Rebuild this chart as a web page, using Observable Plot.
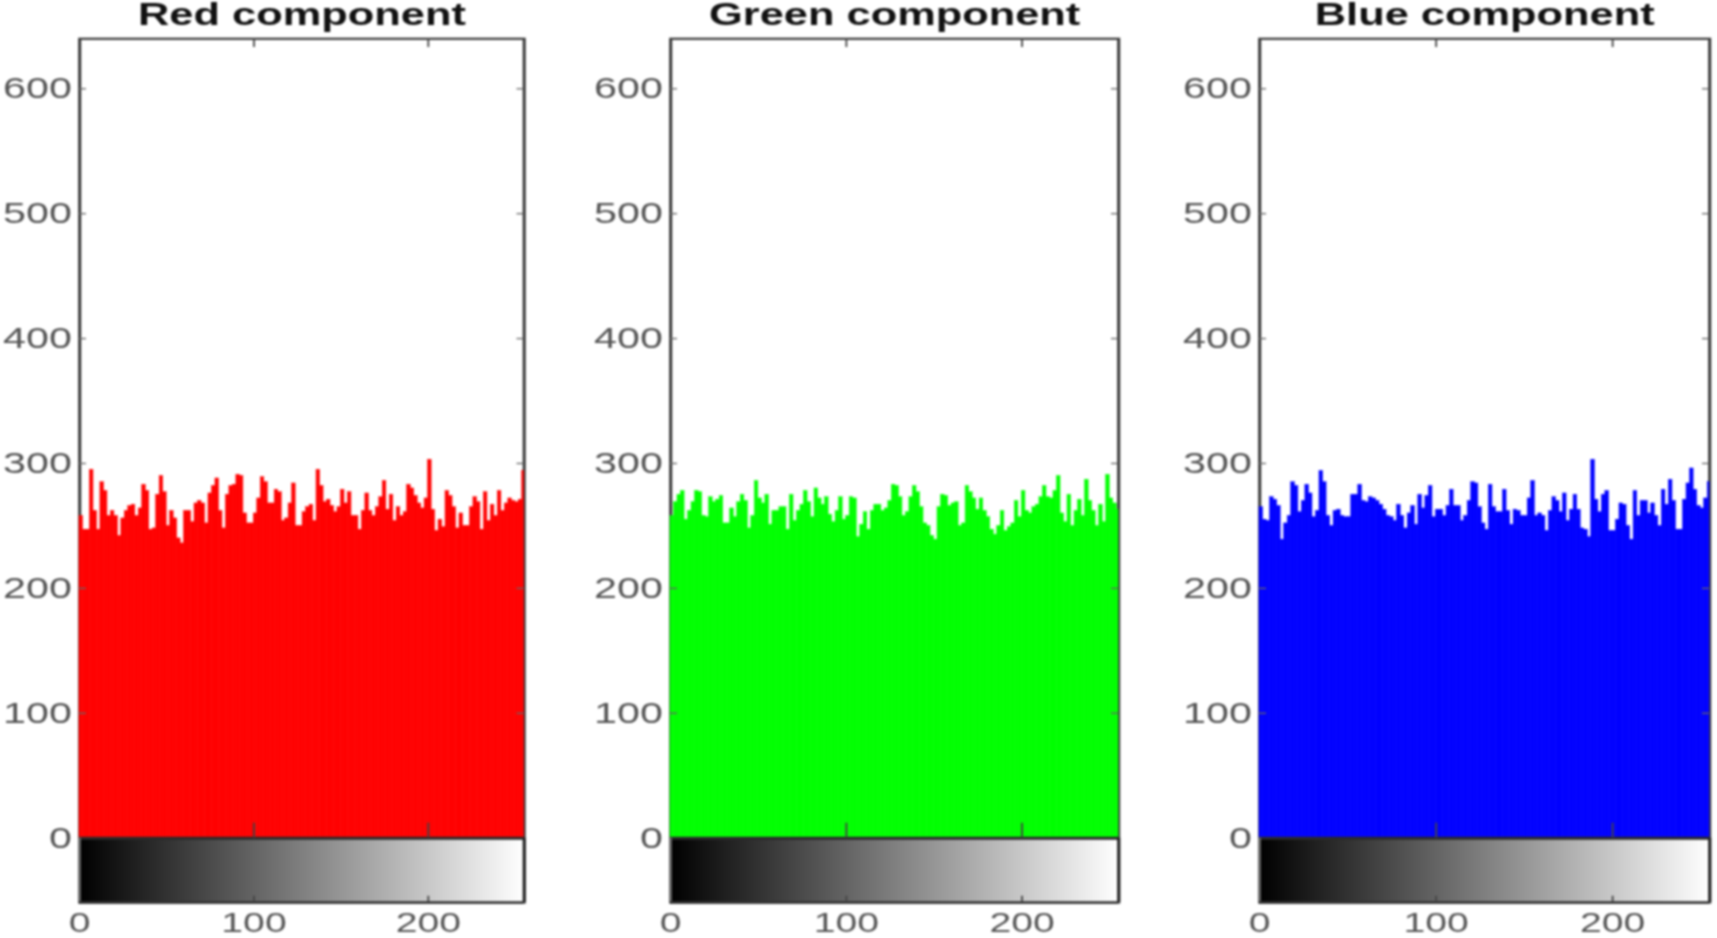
<!DOCTYPE html>
<html>
<head>
<meta charset="utf-8">
<script src="https://cdn.jsdelivr.net/npm/d3@7"></script>
<script src="https://cdn.jsdelivr.net/npm/@observablehq/plot@0.6"></script>
<style>
  html, body { margin: 0; background: #fff; overflow: hidden; }
  #chart { position: relative; width: 1717px; height: 938px; }
</style>
</head>
<body>
<div id="chart"></div>
<script>
// counts per 2 grey levels
const redCounts = [
  258,247,247,295,262,247,285,278,258,262,258,242,256,262,266,267,
  258,264,283,278,247,248,275,290,277,250,262,256,240,236,262,262,
  253,268,270,268,252,276,282,288,262,248,275,282,283,291,290,260,
  252,252,260,272,289,285,268,268,279,277,254,256,268,284,250,
  250,261,265,267,254,295,282,269,271,266,261,265,279,268,277,258,
  258,247,262,276,262,258,265,273,286,263,275,254,265,258,261,283,
  280,274,268,264,272,303,263,246,255,249,278,274,265,248,260,250,
  250,265,273,269,247,277,254,267,258,278,262,268,272,270,269,271,294
]
const greenCounts = [
  258,269,275,278,255,262,269,278,277,258,257,273,269,271,274,252,
  252,264,257,269,275,270,248,258,286,272,268,275,251,262,262,265,
  265,247,275,254,262,267,278,269,257,280,272,267,273,259,253,262,
  273,255,258,273,272,241,251,261,247,262,267,267,262,264,270,283,282,
  273,258,261,273,282,277,265,252,250,242,239,265,275,274,266,268,
  269,250,252,282,277,272,263,272,262,257,247,243,250,262,246,249,
  252,270,257,278,262,260,265,267,273,282,273,272,278,290,260,253,
  275,250,262,271,258,287,270,262,250,267,253,291,272,268,263
]
const blueCounts = [
  265,255,254,273,271,266,239,252,258,285,282,261,270,283,276,257,
  262,294,285,258,250,262,263,258,257,257,275,275,283,270,269,273,
  272,270,267,263,258,257,254,267,258,248,260,266,251,275,264,274,
  282,257,263,263,258,266,279,266,266,254,258,270,285,284,265,252,247,
  283,265,261,261,279,262,251,263,262,258,258,272,286,258,260,258,
  246,262,273,270,261,276,254,263,275,263,248,247,241,303,271,261,
  275,278,246,246,255,268,267,250,239,278,258,270,270,260,268,258,
  250,279,267,287,270,247,247,271,284,296,279,266,264,272,285
]

const titles = ['Red component', 'Green component', 'Blue component']
const fills = ['#ff0000', '#00ff00', '#0000ff']
const series = [redCounts, greenCounts, blueCounts]
const yTicks = [100, 200, 300, 400, 500, 600]
const xTicks = [0, 100, 200]
const greyLevels = d3.range(0, 256)

// the source figure is stretched wider than tall, text included
const stretch = 1.4
// real pixel placement of each svg and its axes
const panels = [
  {left: 0, width: 590, axisL: 79, axisR: 523.5},
  {left: 590, width: 590, axisL: 80, axisR: 528},
  {left: 1180, width: 537, axisL: 79, axisR: 529}
]
const barDepth = -51.5
const yMax = 640
const xMax = 255

panels.forEach((p, k) => {
  const fill = fills[k]
  const chart = Plot.plot({
    width: p.width / stretch,
    height: 938,
    marginLeft: p.axisL / stretch,
    marginRight: (p.width - p.axisR) / stretch,
    marginTop: 38.3,
    marginBottom: 36,
    style: {fontFamily: 'Liberation Sans', background: 'transparent', overflow: 'visible'},
    x: {domain: [0, xMax], axis: null},
    y: {domain: [barDepth, yMax], axis: null},
    color: {type: 'linear', domain: [0, xMax], range: ['#000', '#fff']},
    marks: [
      Plot.frame({stroke: '#3a3a3a', strokeWidth: 2.2}),
      Plot.rectY(series[k], {
        x1: (d, i) => i * 2,
        x2: (d, i) => Math.min(i * 2 + 2, xMax),
        y: d => d,
        fill,
        stroke: fill,
        strokeWidth: 0.4
      }),
      Plot.rect(greyLevels, {
        x1: d => d,
        x2: d => Math.min(d + 1, xMax),
        y1: barDepth,
        y2: 0,
        fill: d => d,
        shapeRendering: 'crispEdges'
      }),
      Plot.ruleY([0], {stroke: '#2a2a2a', strokeWidth: 3}),
      Plot.ruleX([xMax], {y1: barDepth, y2: 0, stroke: '#222', strokeWidth: 2.2}),
      Plot.ruleX([0], {y1: barDepth, y2: 0, stroke: '#777', strokeWidth: 1.5}),
      Plot.ruleY([barDepth], {stroke: '#333', strokeWidth: 2.4}),
      // inward ticks, all four sides of the histogram box
      Plot.ruleY(yTicks, {x1: 0, x2: 4, stroke: '#666', strokeWidth: 1.3}),
      Plot.ruleY(yTicks, {x1: xMax - 4, x2: xMax, stroke: '#666', strokeWidth: 1.3}),
      Plot.ruleX(xTicks.slice(1), {y1: yMax - 7, y2: yMax, stroke: '#444', strokeWidth: 1.3}),
      Plot.ruleX(xTicks.slice(1), {y1: 0, y2: 12, stroke: '#444', strokeWidth: 1.3}),
      Plot.ruleX(xTicks.slice(1), {y1: barDepth, y2: barDepth + 5, stroke: '#444', strokeWidth: 1.3}),
      Plot.text(yTicks.concat(0), {
        x: 0,
        y: d => d,
        text: d => String(d),
        textAnchor: 'end',
        dx: -5.5,
        fontSize: 29.5,
        fill: '#555'
      }),
      Plot.text(xTicks, {
        x: d => d,
        text: d => String(d),
        frameAnchor: 'bottom',
        lineAnchor: 'top',
        dy: 10,
        fontSize: 28,
        fill: '#555'
      }),
      Plot.text([titles[k]], {
        frameAnchor: 'top',
        lineAnchor: 'middle',
        dy: -24,
        fontSize: 31,
        fontWeight: 'bold',
        fill: '#111'
      })
    ]
  })
  chart.setAttribute('preserveAspectRatio', 'none')
  chart.style.position = 'absolute'
  chart.style.left = p.left + 'px'
  chart.style.top = '0'
  chart.style.width = p.width + 'px'
  chart.style.height = '938px'
  chart.style.maxWidth = 'none'
  chart.style.filter = 'blur(1.3px)'
  document.getElementById('chart').append(chart)
})
</script>
</body>
</html>
